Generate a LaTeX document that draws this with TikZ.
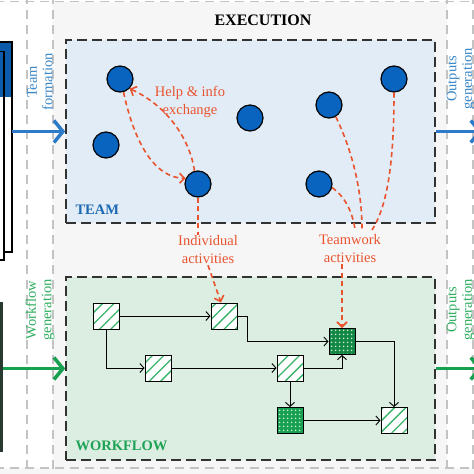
\documentclass[tikz,border=0pt]{standalone}
\usepackage{fontspec}
\setmainfont{Liberation Serif}
\usetikzlibrary{arrows.meta,patterns.meta}
\definecolor{cblue}{RGB}{8,100,190}
\definecolor{teamfill}{RGB}{226,236,246}
\definecolor{wffill}{RGB}{220,237,226}
\definecolor{cred}{RGB}{233,84,47}
\definecolor{tblue}{RGB}{27,106,179}
\definecolor{lblue}{RGB}{58,135,200}
\definecolor{tgreen}{RGB}{30,163,85}
\definecolor{lgreen}{RGB}{47,174,95}
\definecolor{hgreen}{RGB}{55,180,105}
\definecolor{dgreen}{RGB}{22,160,80}
\definecolor{dashgray}{RGB}{195,195,195}
\definecolor{stagebg}{RGB}{246,246,246}
\definecolor{docdark}{RGB}{40,58,48}
\definecolor{docblue}{RGB}{12,90,170}
\definecolor{boxdash}{RGB}{50,50,50}
\tikzset{
  lblfont/.style={font=\fontsize{14.5}{18}\selectfont},
  circ/.style={circle, draw=black, line width=1.2pt, fill=cblue, minimum size=26pt, inner sep=0pt},
  hbox/.style={draw=black, line width=1pt, minimum size=26pt, inner sep=0pt,
    preaction={fill=white}, pattern={Lines[angle=45,distance=8pt,line width=1.3pt]}, pattern color=hgreen},
  dbox/.style={draw=black, line width=1pt, minimum size=26pt, inner sep=0pt,
    preaction={fill=dgreen}, pattern={Dots[distance=4pt,radius=1pt]}, pattern color=white!80!dgreen},
  wf/.style={draw=black, line width=0.9pt, -{Straight Barb[length=4pt,width=9pt]}},
  reddash/.style={draw=cred, line width=1.6pt, dash pattern=on 5pt off 3.5pt},
  redtip/.style={-{Straight Barb[length=5pt,width=10pt]}},
  graydash/.style={draw=dashgray, line width=1.4pt, dash pattern=on 9pt off 6pt},
  areabox/.style={draw=boxdash, line width=1.6pt, dash pattern=on 10pt off 5pt, minimum width=369pt, minimum height=183pt, inner sep=0pt},
  bigarrow/.style={line width=3.5pt, -{Straight Barb[length=9pt,width=22pt]}},
  sidelbl/.style={rotate=90, align=center, font=\fontsize{14.5}{15.5}\selectfont},
  redlbl/.style={lblfont, align=center, text=cred, inner sep=1pt}
}
\begin{document}
\begin{tikzpicture}[x=1pt,y=-1pt]
\useasboundingbox (0,0) rectangle (474,474);
\clip (0,0) rectangle (474,474);
\fill[white] (0,0) rectangle (474,474);
% stage background
\fill[stagebg] (53,2) rectangle (447,474);
\fill[stagebg] (0,468) rectangle (474,474);
% columns
\fill[white] (27,-5) rectangle (53,272);
\fill[white] (27,276) rectangle (53,468);
\fill[white] (447,-5) rectangle (473,272);
\fill[white] (447,276) rectangle (473,468);
% gray dashed stage lines
\draw[graydash] (27,-5) -- (27,480);
\draw[graydash] (53,-5) -- (53,480);
\draw[graydash] (447,-5) -- (447,480);
\draw[graydash] (473,-5) -- (473,480);
\draw[graydash] (-5,1.5) -- (480,1.5);
\draw[graydash] (-5,468) -- (480,468);
% left documents
\draw[line width=1.3pt, fill=white] (-10,42) rectangle (12,252);
\fill[docblue] (-10,42) rectangle (12,97);
\draw[line width=1.3pt] (-10,42) rectangle (12,252);
\draw[line width=1.3pt, fill=white] (-10,52) rectangle (4,260);
\fill[docblue] (-10,52) rectangle (3.3,97);
\fill[docdark] (-10,302) rectangle (3,452);
\coordinate (docb) at (12,132);
\coordinate (docg) at (3,368.5);
% title
\node[font=\fontsize{16}{19}\selectfont\bfseries] (exec) at (263,20) {EXECUTION};
% areas
\node[areabox, fill=teamfill] (team) at (250.5,131.5) {};
\node[areabox, fill=wffill] (wfl) at (250.5,368.5) {};
\node[anchor=west, text=tblue, font=\fontsize{14.5}{18}\selectfont\bfseries] (teamlbl) at (72,210) {TEAM};
\node[anchor=west, text=tgreen, font=\fontsize{14.5}{18}\selectfont\bfseries] (wflbl) at (72,446) {WORKFLOW};
% side labels
\node[sidelbl, text=lblue] (tform) at (40,82) {Team\\formation};
\node[sidelbl, text=lgreen] (wgen) at (40,310) {Workflow\\generation};
\node[sidelbl, text=lblue] (outb) at (461,79) {Outputs\\generation};
\node[sidelbl, text=lgreen] (outg) at (461,310) {Outputs\\generation};
% big arrows
\coordinate (outbe) at (482,131.5);
\coordinate (outge) at (482,368.5);
\draw[bigarrow, draw=cblue!85!white] (docb |- team.west) -- (team.west);
\draw[bigarrow, draw=dgreen] (docg) -- (wfl.west);
\draw[bigarrow, draw=cblue!85!white] (team.east) -- (outbe);
\draw[bigarrow, draw=dgreen] (wfl.east) -- (outge);
% team members
\node[circ] (c1) at (120,79) {};
\node[circ] (c2) at (106,145) {};
\node[circ] (c3) at (250,118) {};
\node[circ] (c4) at (198,184) {};
\node[circ] (c5) at (329,105) {};
\node[circ] (c6) at (394,79) {};
\node[circ] (c7) at (319,184) {};
% red labels
\node[redlbl] (lhelp) at (190,102) {Help \& info\\exchange};
\node[redlbl] (lind) at (208,250) {Individual\\activities};
\node[redlbl] (lteam) at (350,249) {Teamwork\\activities};
% workflow tasks
\node[hbox] (w1) at (106,316) {};
\node[hbox] (w2) at (224,316) {};
\node[hbox] (w3) at (158,368) {};
\node[hbox] (w4) at (290,368) {};
\node[dbox] (w5) at (290,420.5) {};
\node[dbox, preaction={fill=dgreen!85!black}] (w6) at (342,341.5) {};
\node[hbox] (w7) at (394,420.5) {};
% red connectors
\draw[reddash, redtip] (c1.-75) .. controls (136,150) and (158,178) .. (c4.155);
\draw[reddash, redtip] (c4.105) .. controls (190,140) and (168,106) .. (c1.-45);
\draw[reddash] (c4.south) -- (c4.south |- lind.north);
\draw[reddash, redtip] (lind.south) -- ([xshift=-3pt]w2.north);
\coordinate (tw1) at (355,229);
\coordinate (tw2) at (362,229);
\coordinate (tw3) at (372,230);
\draw[reddash] (c7.-15) .. controls (344,196) and (352,210) .. (tw1);
\draw[reddash] (c5.-60) .. controls (352,150) and (362,190) .. (tw2);
\draw[reddash] (c6.south) .. controls (394,160) and (388,205) .. (tw3);
\draw[reddash, redtip] (lteam.south -| w6.north) -- (w6.north);
% workflow connectors
\draw[wf] (w1) -- (w2);
\draw[wf] (w1.south) |- (w3.west);
\draw[wf] (w2.east) -- ++(10,0) |- (w6.west);
\draw[wf] (w3) -- (w4);
\draw[wf] (w4.east) -| (w6.south);
\draw[wf] (w4) -- (w5);
\draw[wf] (w5) -- (w7);
\draw[wf] (w6.east) -| (w7.north);
\end{tikzpicture}
\end{document}
